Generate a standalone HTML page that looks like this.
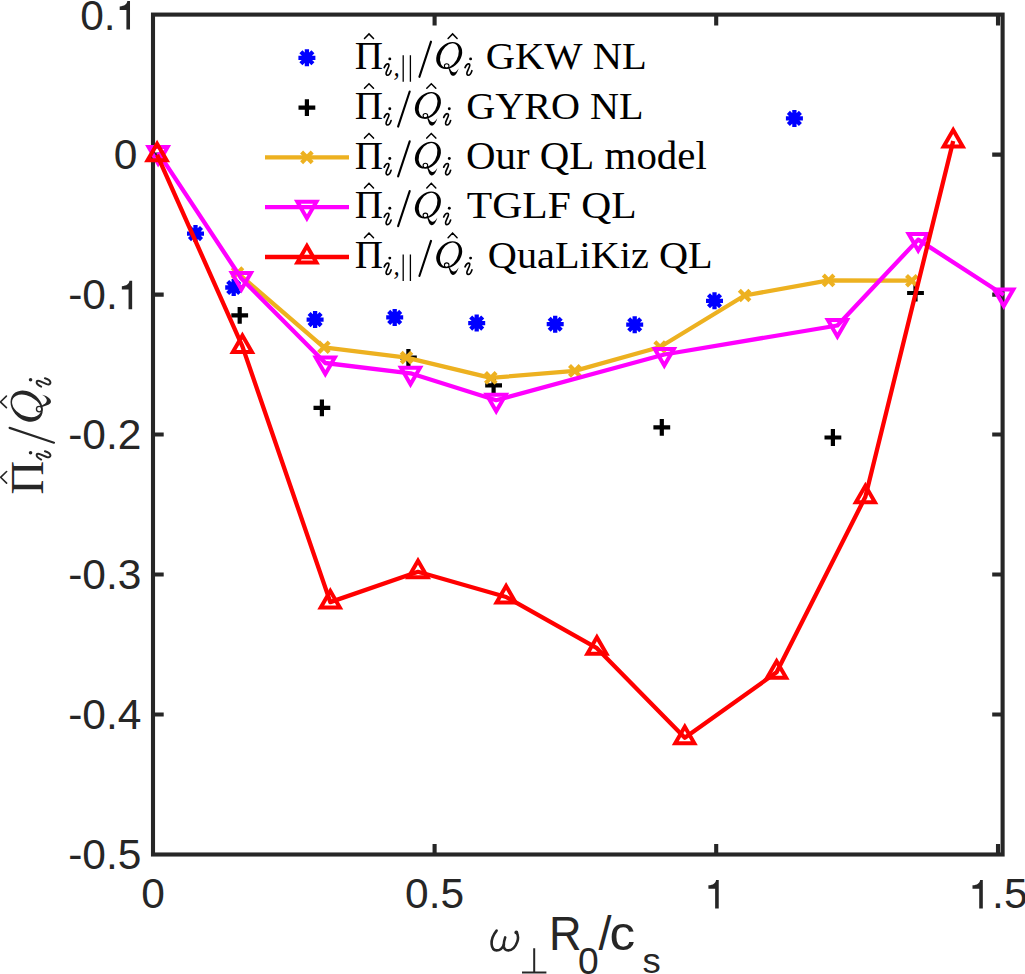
<!DOCTYPE html>
<html><head><meta charset="utf-8"><title>chart</title>
<style>
html,body{margin:0;padding:0;background:#fff;width:1025px;height:974px;overflow:hidden;}
svg{display:block;}
text{font-family:"Liberation Serif",serif;}
.tl{font-family:"Liberation Sans",sans-serif;font-size:42.5px;fill:#262626;}
.lr{font-size:39px;fill:#000;}
.li{font-style:italic;font-size:39px;fill:#000;}
.ls{font-style:italic;font-size:27px;fill:#000;}
.xl{font-family:"Liberation Sans",sans-serif;font-size:48px;fill:#262626;}
.om{font-family:"Liberation Serif",serif;font-style:italic;font-size:46px;}
.xs{font-family:"Liberation Sans",sans-serif;font-size:36px;fill:#262626;}
.yl{font-size:46.5px;fill:#262626;}
.yli{font-style:italic;font-size:46.5px;fill:#262626;}
.ys{font-style:italic;font-size:32px;fill:#262626;}
</style></head>
<body>
<svg width="1025" height="974" viewBox="0 0 1025 974">
<rect width="1025" height="974" fill="#fff"/>
<rect x="153" y="14.6" width="849.6" height="839.9" fill="none" stroke="#262626" stroke-width="4.1"/>
<path d="M154 154.6H163.7M1001.6 154.6H992.2M154 294.6H163.7M1001.6 294.6H992.2M154 434.5H163.7M1001.6 434.5H992.2M154 574.5H163.7M1001.6 574.5H992.2M154 714.5H163.7M1001.6 714.5H992.2M434.6 853.5V843.9M434.6 15.6V25.4M716.2 853.5V843.9M716.2 15.6V25.4M998 853.5V843.9M998 15.6V25.4" stroke="#262626" stroke-width="4.1" fill="none"/>
<text x="80.2" y="29.6" class="tl">0</text><text x="103.83" y="29.6" class="tl">.</text><path d="M269 0H359V712H292C278 632 222 584 101 578V492H269Z" transform="translate(115.65 29.6) scale(0.04 -0.04)" fill="#262626"/>
<text x="113.7" y="169.4" class="tl">0</text>
<text x="68.2" y="309.3" class="tl">-</text><text x="82.35" y="309.3" class="tl">0</text><text x="105.98" y="309.3" class="tl">.</text><path d="M269 0H359V712H292C278 632 222 584 101 578V492H269Z" transform="translate(117.8 309.3) scale(0.04 -0.04)" fill="#262626"/>
<text x="68.2" y="449.1" class="tl">-</text><text x="82.35" y="449.1" class="tl">0</text><text x="105.98" y="449.1" class="tl">.</text><text x="117.8" y="449.1" class="tl">2</text>
<text x="68.2" y="589.1" class="tl">-</text><text x="82.35" y="589.1" class="tl">0</text><text x="105.98" y="589.1" class="tl">.</text><text x="117.8" y="589.1" class="tl">3</text>
<text x="68.2" y="729.1" class="tl">-</text><text x="82.35" y="729.1" class="tl">0</text><text x="105.98" y="729.1" class="tl">.</text><text x="117.8" y="729.1" class="tl">4</text>
<text x="68.2" y="869.4" class="tl">-</text><text x="82.35" y="869.4" class="tl">0</text><text x="105.98" y="869.4" class="tl">.</text><text x="117.8" y="869.4" class="tl">5</text>
<text x="141.19" y="908.4" class="tl">0</text>
<text x="405.06" y="908.4" class="tl">0</text><text x="428.69" y="908.4" class="tl">.</text><text x="440.51" y="908.4" class="tl">5</text>
<path d="M269 0H359V712H292C278 632 222 584 101 578V492H269Z" transform="translate(704.38 908.4) scale(0.04 -0.04)" fill="#262626"/>
<path d="M269 0H359V712H292C278 632 222 584 101 578V492H269Z" transform="translate(968.46 908.4) scale(0.04 -0.04)" fill="#262626"/><text x="992.09" y="908.4" class="tl">.</text><text x="1003.91" y="908.4" class="tl">5</text>
<path d="M187 233.6H204M195.5 225.1V242.1M189.49 227.59L201.51 239.61M189.49 239.61L201.51 227.59" stroke="#0000FF" stroke-width="4.3" fill="none"/>
<path d="M225.2 287.5H242.2M233.7 279V296M227.69 281.49L239.71 293.51M227.69 293.51L239.71 281.49" stroke="#0000FF" stroke-width="4.3" fill="none"/>
<path d="M306.6 319.6H323.6M315.1 311.1V328.1M309.09 313.59L321.11 325.61M309.09 325.61L321.11 313.59" stroke="#0000FF" stroke-width="4.3" fill="none"/>
<path d="M386.2 317.4H403.2M394.7 308.9V325.9M388.69 311.39L400.71 323.41M388.69 323.41L400.71 311.39" stroke="#0000FF" stroke-width="4.3" fill="none"/>
<path d="M468.2 323.1H485.2M476.7 314.6V331.6M470.69 317.09L482.71 329.11M470.69 329.11L482.71 317.09" stroke="#0000FF" stroke-width="4.3" fill="none"/>
<path d="M546.7 324.2H563.7M555.2 315.7V332.7M549.19 318.19L561.21 330.21M549.19 330.21L561.21 318.19" stroke="#0000FF" stroke-width="4.3" fill="none"/>
<path d="M626.2 324.7H643.2M634.7 316.2V333.2M628.69 318.69L640.71 330.71M628.69 330.71L640.71 318.69" stroke="#0000FF" stroke-width="4.3" fill="none"/>
<path d="M706 300.8H723M714.5 292.3V309.3M708.49 294.79L720.51 306.81M708.49 306.81L720.51 294.79" stroke="#0000FF" stroke-width="4.3" fill="none"/>
<path d="M785.9 118.4H802.9M794.4 109.9V126.9M788.39 112.39L800.41 124.41M788.39 124.41L800.41 112.39" stroke="#0000FF" stroke-width="4.3" fill="none"/>
<path d="M231.3 315.4H248.1M239.7 307V323.8" stroke="#000" stroke-width="4.2" fill="none"/>
<path d="M313.5 407.8H330.3M321.9 399.4V416.2" stroke="#000" stroke-width="4.2" fill="none"/>
<path d="M400 357.5H416.8M408.4 349.1V365.9" stroke="#000" stroke-width="4.2" fill="none"/>
<path d="M485.2 385.3H502M493.6 376.9V393.7" stroke="#000" stroke-width="4.2" fill="none"/>
<path d="M653.4 427.3H670.2M661.8 418.9V435.7" stroke="#000" stroke-width="4.2" fill="none"/>
<path d="M824.5 437.5H841.3M832.9 429.1V445.9" stroke="#000" stroke-width="4.2" fill="none"/>
<path d="M907.1 293H923.9M915.5 284.6V301.4" stroke="#000" stroke-width="4.2" fill="none"/>
<polyline points="237.5,273 323.9,347.3 406.5,357.6 490.8,377.9 574.8,370.9 660.1,347 744.6,295.5 828.6,280.4 911.8,280.7" stroke="#EDB120" stroke-width="4.3" fill="none" stroke-linejoin="round"/>
<path d="M232.2 267.7L242.8 278.3M232.2 278.3L242.8 267.7" stroke="#EDB120" stroke-width="4.2" fill="none"/>
<path d="M318.6 342L329.2 352.6M318.6 352.6L329.2 342" stroke="#EDB120" stroke-width="4.2" fill="none"/>
<path d="M401.2 352.3L411.8 362.9M401.2 362.9L411.8 352.3" stroke="#EDB120" stroke-width="4.2" fill="none"/>
<path d="M485.5 372.6L496.1 383.2M485.5 383.2L496.1 372.6" stroke="#EDB120" stroke-width="4.2" fill="none"/>
<path d="M569.5 365.6L580.1 376.2M569.5 376.2L580.1 365.6" stroke="#EDB120" stroke-width="4.2" fill="none"/>
<path d="M654.8 341.7L665.4 352.3M654.8 352.3L665.4 341.7" stroke="#EDB120" stroke-width="4.2" fill="none"/>
<path d="M739.3 290.2L749.9 300.8M739.3 300.8L749.9 290.2" stroke="#EDB120" stroke-width="4.2" fill="none"/>
<path d="M823.3 275.1L833.9 285.7M823.3 285.7L833.9 275.1" stroke="#EDB120" stroke-width="4.2" fill="none"/>
<path d="M906.5 275.4L917.1 286M906.5 286L917.1 275.4" stroke="#EDB120" stroke-width="4.2" fill="none"/>
<polyline points="158.1,152.4 241.4,278.5 325.3,363 410.5,373.3 496.2,400.2 664.3,354.5 837.4,325.5 918.2,239.6 1003.8,295" stroke="#FF00FF" stroke-width="4.3" fill="none" stroke-linejoin="round"/>
<path d="M158.1 163.4L148.57 146.9L167.63 146.9Z" stroke="#FF00FF" stroke-width="4" fill="none"/>
<path d="M241.4 289.5L231.87 273L250.93 273Z" stroke="#FF00FF" stroke-width="4" fill="none"/>
<path d="M325.3 374L315.77 357.5L334.83 357.5Z" stroke="#FF00FF" stroke-width="4" fill="none"/>
<path d="M410.5 384.3L400.97 367.8L420.03 367.8Z" stroke="#FF00FF" stroke-width="4" fill="none"/>
<path d="M496.2 411.2L486.67 394.7L505.73 394.7Z" stroke="#FF00FF" stroke-width="4" fill="none"/>
<path d="M664.3 365.5L654.77 349L673.83 349Z" stroke="#FF00FF" stroke-width="4" fill="none"/>
<path d="M837.4 336.5L827.87 320L846.93 320Z" stroke="#FF00FF" stroke-width="4" fill="none"/>
<path d="M918.2 250.6L908.67 234.1L927.73 234.1Z" stroke="#FF00FF" stroke-width="4" fill="none"/>
<path d="M1003.8 306L994.27 289.5L1013.33 289.5Z" stroke="#FF00FF" stroke-width="4" fill="none"/>
<polyline points="157.1,154.8 242.4,346.4 330.3,602.1 418,571.8 506.1,597 596.9,648.2 684.8,737.8 776.6,672.3 865.4,496.8 953.2,141.1" stroke="#FF0000" stroke-width="4.3" fill="none" stroke-linejoin="round"/>
<path d="M157.1 143.8L147.57 160.3L166.63 160.3Z" stroke="#FF0000" stroke-width="4" fill="none"/>
<path d="M242.4 335.4L232.87 351.9L251.93 351.9Z" stroke="#FF0000" stroke-width="4" fill="none"/>
<path d="M330.3 591.1L320.77 607.6L339.83 607.6Z" stroke="#FF0000" stroke-width="4" fill="none"/>
<path d="M418 560.8L408.47 577.3L427.53 577.3Z" stroke="#FF0000" stroke-width="4" fill="none"/>
<path d="M506.1 586L496.57 602.5L515.63 602.5Z" stroke="#FF0000" stroke-width="4" fill="none"/>
<path d="M596.9 637.2L587.37 653.7L606.43 653.7Z" stroke="#FF0000" stroke-width="4" fill="none"/>
<path d="M684.8 726.8L675.27 743.3L694.33 743.3Z" stroke="#FF0000" stroke-width="4" fill="none"/>
<path d="M776.6 661.3L767.07 677.8L786.13 677.8Z" stroke="#FF0000" stroke-width="4" fill="none"/>
<path d="M865.4 485.8L855.87 502.3L874.93 502.3Z" stroke="#FF0000" stroke-width="4" fill="none"/>
<path d="M953.2 130.1L943.67 146.6L962.73 146.6Z" stroke="#FF0000" stroke-width="4" fill="none"/>
<path d="M298.4 57.8H315.4M306.9 49.3V66.3M300.89 51.79L312.91 63.81M300.89 63.81L312.91 51.79" stroke="#0000FF" stroke-width="4.3" fill="none"/>
<path d="M298.5 107.7H315.3M306.9 99.3V116.1" stroke="#000" stroke-width="4.2" fill="none"/>
<line x1="265" y1="157.4" x2="349" y2="157.4" stroke="#EDB120" stroke-width="4.3"/>
<path d="M301.6 152.1L312.2 162.7M301.6 162.7L312.2 152.1" stroke="#EDB120" stroke-width="4.2" fill="none"/>
<line x1="265" y1="207.2" x2="349" y2="207.2" stroke="#FF00FF" stroke-width="4.3"/>
<path d="M306.9 218.2L297.37 201.7L316.43 201.7Z" stroke="#FF00FF" stroke-width="4" fill="none"/>
<line x1="265" y1="257" x2="349" y2="257" stroke="#FF0000" stroke-width="4.3"/>
<path d="M306.9 246L297.37 262.5L316.43 262.5Z" stroke="#FF0000" stroke-width="4" fill="none"/>
<text transform="translate(354.77 69) scale(1.0039 1)" style="font-family:'Liberation Serif',serif;font-size:39px;fill:#000;font-kerning:none">&#928;</text>
<path d="M364.5 38.5L369 33.9L373.5 38.5" stroke="#000" stroke-width="1.5" fill="none" stroke-linecap="round"/>
<g transform="translate(384.1 75.5) scale(1)"><path d="M0.1 -7.9C1 -9.9 2.5 -11.7 3.9 -11.6C5.2 -11.5 5 -9.9 4.4 -8.5L2.2 -3.4C1.7 -1.8 2 -0.3 3.4 -0.3C5 -0.3 6.3 -2.4 7 -4.8" stroke="#000" stroke-width="1.65" fill="none" stroke-linecap="round" stroke-linejoin="round"/><circle cx="5.7" cy="-16.6" r="1.45" fill="#000"/></g>
<text transform="translate(393.38 75.5) scale(0.9150 1)" style="font-family:'Liberation Serif',serif;font-style:italic;font-size:27px;fill:#000;font-kerning:none">,</text>
<path d="M403.2 55.2V81.8M410.4 55.2V81.8" stroke="#000" stroke-width="1.3"/>
<path d="M419.4 76.8L431 41.7" stroke="#000" stroke-width="2.1" stroke-linecap="round"/>
<g transform="translate(436.2 69) scale(1)"><path d="M-12.55 0A12.55 13.45 0 1 0 12.55 0A12.55 13.45 0 1 0 -12.55 0ZM-8.75 -0.1A8.9 12.1 0 1 0 9.05 -0.1A8.9 12.1 0 1 0 -8.75 -0.1Z" transform="translate(13 -13.45) skewX(-14)" fill="#000" fill-rule="evenodd"/><path d="M12.3 -0.6C13.4 2.4 14.2 6.3 16.5 6.8C19.2 7.2 21.5 3 22.4 -0.6C20.6 2.3 18.8 3.7 17.2 3.3C15.3 2.9 14.3 1 13.6 -0.8Z" fill="#000"/><path d="M8.2 -3A2.3 2.3 0 1 0 12.8 -3A2.3 2.3 0 1 0 8.2 -3Z" stroke="#000" stroke-width="1.1" fill="none"/></g>
<path d="M448.1 38.5L452.6 33.9L457.1 38.5" stroke="#000" stroke-width="1.5" fill="none" stroke-linecap="round"/>
<g transform="translate(464.9 75.5) scale(1)"><path d="M0.1 -7.9C1 -9.9 2.5 -11.7 3.9 -11.6C5.2 -11.5 5 -9.9 4.4 -8.5L2.2 -3.4C1.7 -1.8 2 -0.3 3.4 -0.3C5 -0.3 6.3 -2.4 7 -4.8" stroke="#000" stroke-width="1.65" fill="none" stroke-linecap="round" stroke-linejoin="round"/><circle cx="5.7" cy="-16.6" r="1.45" fill="#000"/></g>
<text transform="translate(485.64 69) scale(1.0408 1)" style="font-family:'Liberation Serif',serif;font-size:39px;fill:#000;font-kerning:none">GKW NL</text>
<text transform="translate(354.77 118.8) scale(1.0039 1)" style="font-family:'Liberation Serif',serif;font-size:39px;fill:#000;font-kerning:none">&#928;</text>
<path d="M364.5 88.3L369 83.7L373.5 88.3" stroke="#000" stroke-width="1.5" fill="none" stroke-linecap="round"/>
<g transform="translate(384.1 125.3) scale(1)"><path d="M0.1 -7.9C1 -9.9 2.5 -11.7 3.9 -11.6C5.2 -11.5 5 -9.9 4.4 -8.5L2.2 -3.4C1.7 -1.8 2 -0.3 3.4 -0.3C5 -0.3 6.3 -2.4 7 -4.8" stroke="#000" stroke-width="1.65" fill="none" stroke-linecap="round" stroke-linejoin="round"/><circle cx="5.7" cy="-16.6" r="1.45" fill="#000"/></g>
<path d="M398.1 126.6L409.7 91.5" stroke="#000" stroke-width="2.1" stroke-linecap="round"/>
<g transform="translate(414.9 118.8) scale(1)"><path d="M-12.55 0A12.55 13.45 0 1 0 12.55 0A12.55 13.45 0 1 0 -12.55 0ZM-8.75 -0.1A8.9 12.1 0 1 0 9.05 -0.1A8.9 12.1 0 1 0 -8.75 -0.1Z" transform="translate(13 -13.45) skewX(-14)" fill="#000" fill-rule="evenodd"/><path d="M12.3 -0.6C13.4 2.4 14.2 6.3 16.5 6.8C19.2 7.2 21.5 3 22.4 -0.6C20.6 2.3 18.8 3.7 17.2 3.3C15.3 2.9 14.3 1 13.6 -0.8Z" fill="#000"/><path d="M8.2 -3A2.3 2.3 0 1 0 12.8 -3A2.3 2.3 0 1 0 8.2 -3Z" stroke="#000" stroke-width="1.1" fill="none"/></g>
<path d="M426.8 88.3L431.3 83.7L435.8 88.3" stroke="#000" stroke-width="1.5" fill="none" stroke-linecap="round"/>
<g transform="translate(443.6 125.3) scale(1)"><path d="M0.1 -7.9C1 -9.9 2.5 -11.7 3.9 -11.6C5.2 -11.5 5 -9.9 4.4 -8.5L2.2 -3.4C1.7 -1.8 2 -0.3 3.4 -0.3C5 -0.3 6.3 -2.4 7 -4.8" stroke="#000" stroke-width="1.65" fill="none" stroke-linecap="round" stroke-linejoin="round"/><circle cx="5.7" cy="-16.6" r="1.45" fill="#000"/></g>
<text transform="translate(466.15 118.8) scale(1.0309 1)" style="font-family:'Liberation Serif',serif;font-size:39px;fill:#000;font-kerning:none">GYRO NL</text>
<text transform="translate(354.77 168.6) scale(1.0039 1)" style="font-family:'Liberation Serif',serif;font-size:39px;fill:#000;font-kerning:none">&#928;</text>
<path d="M364.5 138.1L369 133.5L373.5 138.1" stroke="#000" stroke-width="1.5" fill="none" stroke-linecap="round"/>
<g transform="translate(384.1 175.1) scale(1)"><path d="M0.1 -7.9C1 -9.9 2.5 -11.7 3.9 -11.6C5.2 -11.5 5 -9.9 4.4 -8.5L2.2 -3.4C1.7 -1.8 2 -0.3 3.4 -0.3C5 -0.3 6.3 -2.4 7 -4.8" stroke="#000" stroke-width="1.65" fill="none" stroke-linecap="round" stroke-linejoin="round"/><circle cx="5.7" cy="-16.6" r="1.45" fill="#000"/></g>
<path d="M398.1 176.4L409.7 141.3" stroke="#000" stroke-width="2.1" stroke-linecap="round"/>
<g transform="translate(414.9 168.6) scale(1)"><path d="M-12.55 0A12.55 13.45 0 1 0 12.55 0A12.55 13.45 0 1 0 -12.55 0ZM-8.75 -0.1A8.9 12.1 0 1 0 9.05 -0.1A8.9 12.1 0 1 0 -8.75 -0.1Z" transform="translate(13 -13.45) skewX(-14)" fill="#000" fill-rule="evenodd"/><path d="M12.3 -0.6C13.4 2.4 14.2 6.3 16.5 6.8C19.2 7.2 21.5 3 22.4 -0.6C20.6 2.3 18.8 3.7 17.2 3.3C15.3 2.9 14.3 1 13.6 -0.8Z" fill="#000"/><path d="M8.2 -3A2.3 2.3 0 1 0 12.8 -3A2.3 2.3 0 1 0 8.2 -3Z" stroke="#000" stroke-width="1.1" fill="none"/></g>
<path d="M426.8 138.1L431.3 133.5L435.8 138.1" stroke="#000" stroke-width="1.5" fill="none" stroke-linecap="round"/>
<g transform="translate(443.6 175.1) scale(1)"><path d="M0.1 -7.9C1 -9.9 2.5 -11.7 3.9 -11.6C5.2 -11.5 5 -9.9 4.4 -8.5L2.2 -3.4C1.7 -1.8 2 -0.3 3.4 -0.3C5 -0.3 6.3 -2.4 7 -4.8" stroke="#000" stroke-width="1.65" fill="none" stroke-linecap="round" stroke-linejoin="round"/><circle cx="5.7" cy="-16.6" r="1.45" fill="#000"/></g>
<text transform="translate(465.92 168.6) scale(1.0496 1)" style="font-family:'Liberation Serif',serif;font-size:39px;fill:#000;font-kerning:none">Our QL model</text>
<text transform="translate(354.77 218.4) scale(1.0039 1)" style="font-family:'Liberation Serif',serif;font-size:39px;fill:#000;font-kerning:none">&#928;</text>
<path d="M364.5 187.9L369 183.3L373.5 187.9" stroke="#000" stroke-width="1.5" fill="none" stroke-linecap="round"/>
<g transform="translate(384.1 224.9) scale(1)"><path d="M0.1 -7.9C1 -9.9 2.5 -11.7 3.9 -11.6C5.2 -11.5 5 -9.9 4.4 -8.5L2.2 -3.4C1.7 -1.8 2 -0.3 3.4 -0.3C5 -0.3 6.3 -2.4 7 -4.8" stroke="#000" stroke-width="1.65" fill="none" stroke-linecap="round" stroke-linejoin="round"/><circle cx="5.7" cy="-16.6" r="1.45" fill="#000"/></g>
<path d="M398.1 226.2L409.7 191.1" stroke="#000" stroke-width="2.1" stroke-linecap="round"/>
<g transform="translate(414.9 218.4) scale(1)"><path d="M-12.55 0A12.55 13.45 0 1 0 12.55 0A12.55 13.45 0 1 0 -12.55 0ZM-8.75 -0.1A8.9 12.1 0 1 0 9.05 -0.1A8.9 12.1 0 1 0 -8.75 -0.1Z" transform="translate(13 -13.45) skewX(-14)" fill="#000" fill-rule="evenodd"/><path d="M12.3 -0.6C13.4 2.4 14.2 6.3 16.5 6.8C19.2 7.2 21.5 3 22.4 -0.6C20.6 2.3 18.8 3.7 17.2 3.3C15.3 2.9 14.3 1 13.6 -0.8Z" fill="#000"/><path d="M8.2 -3A2.3 2.3 0 1 0 12.8 -3A2.3 2.3 0 1 0 8.2 -3Z" stroke="#000" stroke-width="1.1" fill="none"/></g>
<path d="M426.8 187.9L431.3 183.3L435.8 187.9" stroke="#000" stroke-width="1.5" fill="none" stroke-linecap="round"/>
<g transform="translate(443.6 224.9) scale(1)"><path d="M0.1 -7.9C1 -9.9 2.5 -11.7 3.9 -11.6C5.2 -11.5 5 -9.9 4.4 -8.5L2.2 -3.4C1.7 -1.8 2 -0.3 3.4 -0.3C5 -0.3 6.3 -2.4 7 -4.8" stroke="#000" stroke-width="1.65" fill="none" stroke-linecap="round" stroke-linejoin="round"/><circle cx="5.7" cy="-16.6" r="1.45" fill="#000"/></g>
<text transform="translate(466.85 218.4) scale(1.0666 1)" style="font-family:'Liberation Serif',serif;font-size:39px;fill:#000;font-kerning:none">TGLF QL</text>
<text transform="translate(354.77 268.2) scale(1.0039 1)" style="font-family:'Liberation Serif',serif;font-size:39px;fill:#000;font-kerning:none">&#928;</text>
<path d="M364.5 237.7L369 233.1L373.5 237.7" stroke="#000" stroke-width="1.5" fill="none" stroke-linecap="round"/>
<g transform="translate(384.1 274.7) scale(1)"><path d="M0.1 -7.9C1 -9.9 2.5 -11.7 3.9 -11.6C5.2 -11.5 5 -9.9 4.4 -8.5L2.2 -3.4C1.7 -1.8 2 -0.3 3.4 -0.3C5 -0.3 6.3 -2.4 7 -4.8" stroke="#000" stroke-width="1.65" fill="none" stroke-linecap="round" stroke-linejoin="round"/><circle cx="5.7" cy="-16.6" r="1.45" fill="#000"/></g>
<text transform="translate(393.38 274.7) scale(0.9150 1)" style="font-family:'Liberation Serif',serif;font-style:italic;font-size:27px;fill:#000;font-kerning:none">,</text>
<path d="M403.2 254.4V281M410.4 254.4V281" stroke="#000" stroke-width="1.3"/>
<path d="M419.4 276L431 240.9" stroke="#000" stroke-width="2.1" stroke-linecap="round"/>
<g transform="translate(436.2 268.2) scale(1)"><path d="M-12.55 0A12.55 13.45 0 1 0 12.55 0A12.55 13.45 0 1 0 -12.55 0ZM-8.75 -0.1A8.9 12.1 0 1 0 9.05 -0.1A8.9 12.1 0 1 0 -8.75 -0.1Z" transform="translate(13 -13.45) skewX(-14)" fill="#000" fill-rule="evenodd"/><path d="M12.3 -0.6C13.4 2.4 14.2 6.3 16.5 6.8C19.2 7.2 21.5 3 22.4 -0.6C20.6 2.3 18.8 3.7 17.2 3.3C15.3 2.9 14.3 1 13.6 -0.8Z" fill="#000"/><path d="M8.2 -3A2.3 2.3 0 1 0 12.8 -3A2.3 2.3 0 1 0 8.2 -3Z" stroke="#000" stroke-width="1.1" fill="none"/></g>
<path d="M448.1 237.7L452.6 233.1L457.1 237.7" stroke="#000" stroke-width="1.5" fill="none" stroke-linecap="round"/>
<g transform="translate(464.9 274.7) scale(1)"><path d="M0.1 -7.9C1 -9.9 2.5 -11.7 3.9 -11.6C5.2 -11.5 5 -9.9 4.4 -8.5L2.2 -3.4C1.7 -1.8 2 -0.3 3.4 -0.3C5 -0.3 6.3 -2.4 7 -4.8" stroke="#000" stroke-width="1.65" fill="none" stroke-linecap="round" stroke-linejoin="round"/><circle cx="5.7" cy="-16.6" r="1.45" fill="#000"/></g>
<text transform="translate(487.85 268.2) scale(1.0326 1)" style="font-family:'Liberation Serif',serif;font-size:39px;fill:#000;font-kerning:none">QuaLiKiz QL</text>
<path d="M496.6 930.6C493.4 934.6 491.2 939.6 491.6 944.2C492 948.6 494.2 950.4 496.6 950.4C499.8 950.4 502.6 948 503.9 944.6" stroke="#262626" stroke-width="2.6" fill="none" stroke-linecap="round"/>
<path d="M505.2 937.4C504.2 940.4 503.5 943.6 503.8 946.4C504.2 949.4 506 950.4 508.2 950.4C512.2 950.4 515.6 946.6 517.3 941.6C518.4 938.2 518.1 934.8 516.6 932.6" stroke="#262626" stroke-width="2.6" fill="none" stroke-linecap="round"/>
<circle cx="516.3" cy="932.4" r="1.9" fill="#262626"/>
<path d="M522 972.6H546.4M534.2 972.6V948.3" stroke="#262626" stroke-width="2" fill="none"/>
<text transform="translate(549.1 950.3) scale(0.9404 1)" style="font-family:'Liberation Sans',sans-serif;font-size:48px;fill:#262626;font-kerning:none">R</text>
<text transform="translate(577.95 974.3) scale(1.0343 1)" style="font-family:'Liberation Sans',sans-serif;font-size:36px;fill:#262626;font-kerning:none">0</text>
<text transform="translate(598.5 950.3) scale(0.9748 1)" style="font-family:'Liberation Sans',sans-serif;font-size:48px;fill:#262626;font-kerning:none">/</text>
<text transform="translate(609.52 950.3) scale(1.0679 1)" style="font-family:'Liberation Sans',sans-serif;font-size:48px;fill:#262626;font-kerning:none">c</text>
<text transform="translate(642.39 972.5) scale(1.0129 1)" style="font-family:'Liberation Sans',sans-serif;font-size:36px;fill:#262626;font-kerning:none">s</text>
<g transform="translate(42.8,493.3) rotate(-90)"><text transform="translate(-1.14 0) scale(1.0039 1)" style="font-family:'Liberation Serif',serif;font-size:46.5px;fill:#262626;font-kerning:none">&#928;</text><path d="M10.2 -36.2L16 -42.2L21.8 -36.2" stroke="#262626" stroke-width="1.6" fill="none" stroke-linecap="round"/><g transform="translate(33.6 8) scale(1.22)"><path d="M0.1 -7.9C1 -9.9 2.5 -11.7 3.9 -11.6C5.2 -11.5 5 -9.9 4.4 -8.5L2.2 -3.4C1.7 -1.8 2 -0.3 3.4 -0.3C5 -0.3 6.3 -2.4 7 -4.8" stroke="#262626" stroke-width="1.65" fill="none" stroke-linecap="round" stroke-linejoin="round"/><circle cx="5.7" cy="-16.6" r="1.45" fill="#262626"/></g><path d="M50.6 11.2L65.4 -33.2" stroke="#262626" stroke-width="2.2" stroke-linecap="round"/><g transform="translate(71.6 0) scale(1.2)"><path d="M-12.55 0A12.55 13.45 0 1 0 12.55 0A12.55 13.45 0 1 0 -12.55 0ZM-8.75 -0.1A8.9 12.1 0 1 0 9.05 -0.1A8.9 12.1 0 1 0 -8.75 -0.1Z" transform="translate(13 -13.45) skewX(-14)" fill="#262626" fill-rule="evenodd"/><path d="M12.3 -0.6C13.4 2.4 14.2 6.3 16.5 6.8C19.2 7.2 21.5 3 22.4 -0.6C20.6 2.3 18.8 3.7 17.2 3.3C15.3 2.9 14.3 1 13.6 -0.8Z" fill="#262626"/><path d="M8.2 -3A2.3 2.3 0 1 0 12.8 -3A2.3 2.3 0 1 0 8.2 -3Z" stroke="#262626" stroke-width="1.1" fill="none"/></g><path d="M85.6 -36.4L91.4 -42.4L97.2 -36.4" stroke="#262626" stroke-width="1.6" fill="none" stroke-linecap="round"/><g transform="translate(106.5 8) scale(1.22)"><path d="M0.1 -7.9C1 -9.9 2.5 -11.7 3.9 -11.6C5.2 -11.5 5 -9.9 4.4 -8.5L2.2 -3.4C1.7 -1.8 2 -0.3 3.4 -0.3C5 -0.3 6.3 -2.4 7 -4.8" stroke="#262626" stroke-width="1.65" fill="none" stroke-linecap="round" stroke-linejoin="round"/><circle cx="5.7" cy="-16.6" r="1.45" fill="#262626"/></g></g>
</svg>
</body></html>
